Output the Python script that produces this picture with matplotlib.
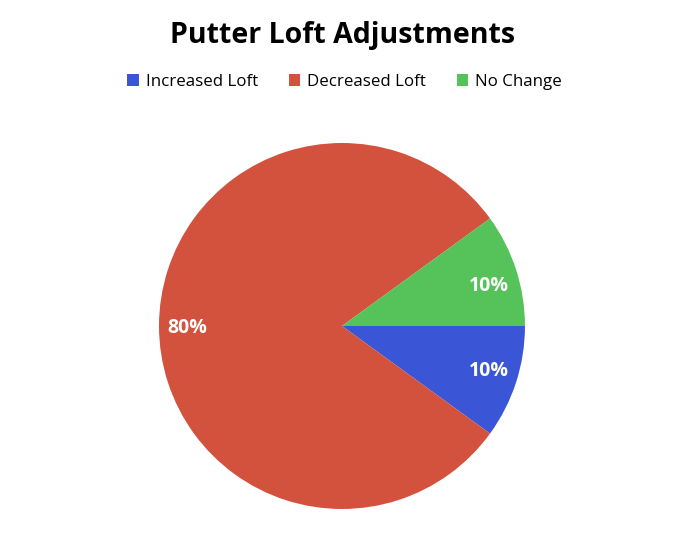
import matplotlib.pyplot as plt

plt.rcParams['font.family'] = ['Open Sans', 'DejaVu Sans']

labels = ['Increased Loft', 'Decreased Loft', 'No Change']
values = [10, 80, 10]
colors = ['#3A56D6', '#D3523D', '#55C25A']

fig = plt.figure(figsize=(6.85, 5.53), dpi=100)
ax = fig.add_axes([0.2321, 0.0796, 0.5343, 0.6618])

wedges, texts, autotexts = ax.pie(values, colors=colors, startangle=0, counterclock=False,
                                  autopct='%1.0f%%', pctdistance=0.845, radius=1,
                                  textprops=dict(color='white', fontsize=14, fontweight='bold'))
# pull the labels a bit toward the horizontal, like the original
for t in autotexts:
    x, y = t.get_position()
    t.set_position((x, y * 0.88))
    t.set_va('center_baseline')
ax.set_xlim(-1, 1)
ax.set_ylim(-1, 1)
ax.set_aspect('equal')

fig.text(0.5, 1 - 35/553, 'Putter Loft Adjustments', ha='center', va='center',
         fontsize=20.5, fontweight='bold')
fig.legend(wedges, labels, loc='center', bbox_to_anchor=(0.503, 1 - 82/553), ncol=3,
           frameon=False, fontsize=12.2, handlelength=0.7, handleheight=0.7,
           handletextpad=0.4, columnspacing=1.8)

fig.savefig('out.png', dpi=100)
